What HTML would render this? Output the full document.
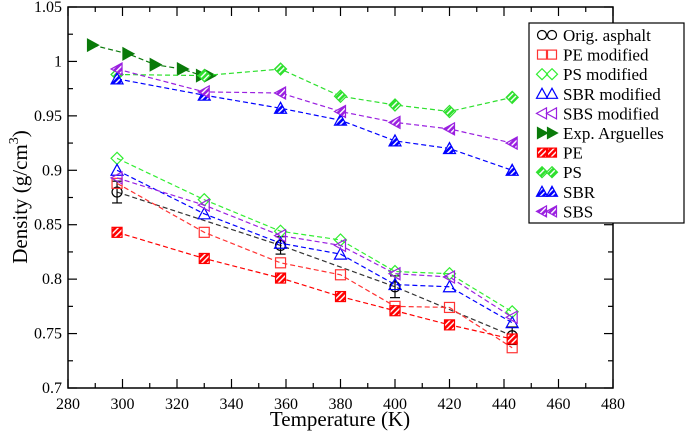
<!DOCTYPE html>
<html><head><meta charset="utf-8"><style>
html,body{margin:0;padding:0;background:#fff;}
svg{display:block;font-family:"Liberation Serif",serif;}
svg text{font-family:"Liberation Serif","DejaVu Serif",serif;}
</style></head><body>
<svg id="chart" width="685" height="433" viewBox="0 0 685 433">
<defs>
<pattern id="hR" width="4" height="4" patternUnits="userSpaceOnUse" patternTransform="rotate(45)"><rect width="4" height="4" fill="#f00"/><rect width="1.4" height="4" fill="#fff"/></pattern>
<pattern id="hG" width="4" height="4" patternUnits="userSpaceOnUse" patternTransform="rotate(45)"><rect width="4" height="4" fill="#2ee02e"/><rect width="1.4" height="4" fill="#fff"/></pattern>
<pattern id="hB" width="4" height="4" patternUnits="userSpaceOnUse" patternTransform="rotate(45)"><rect width="4" height="4" fill="#00f"/><rect width="1.4" height="4" fill="#fff"/></pattern>
<pattern id="hP" width="4" height="4" patternUnits="userSpaceOnUse" patternTransform="rotate(45)"><rect width="4" height="4" fill="#9a20e0"/><rect width="1.4" height="4" fill="#fff"/></pattern>
</defs>
<g id="axes"></g>
<g id="series"></g>
<g id="legend"></g>
</svg>
<script>
const temps = [298, 330, 358, 380, 400, 420, 443];
const origTemps = [298, 358, 400, 443];
const origVals = [0.880, 0.831, 0.793, 0.748];
const origErr = [0.010, 0.008, 0.010, 0.008];
const peModVals = [0.888, 0.843, 0.815, 0.804, 0.775, 0.774, 0.737];
const psModVals = [0.911, 0.873, 0.844, 0.836, 0.807, 0.805, 0.770];
const sbrModVals = [0.900, 0.860, 0.833, 0.823, 0.795, 0.793, 0.760];
const sbsModVals = [0.893, 0.868, 0.840, 0.831, 0.805, 0.802, 0.765];
const argTemps = [289, 302, 312, 322, 329, 332];
const argVals = [1.015, 1.007, 0.997, 0.993, 0.987, 0.987];
const peVals = [0.843, 0.819, 0.801, 0.784, 0.771, 0.758, 0.745];
const psVals = [0.988, 0.987, 0.993, 0.968, 0.960, 0.954, 0.967];
const sbrVals = [0.984, 0.969, 0.957, 0.946, 0.927, 0.920, 0.900];
const sbsVals = [0.993, 0.972, 0.971, 0.954, 0.944, 0.938, 0.925];
const xTicks = [280, 300, 320, 340, 360, 380, 400, 420, 440, 460, 480];
const yTicks = [0.7, 0.75, 0.8, 0.85, 0.9, 0.95, 1, 1.05];
const yTickLabels = ["0.7", "0.75", "0.8", "0.85", "0.9", "0.95", "1", "1.05"];

const L = 68, R = 613, T = 7, B = 388;
const X = t => L + (t - 280) / 200 * (R - L);
const Y = v => B - (v - 0.7) / 0.35 * (B - T);
const NS = "http://www.w3.org/2000/svg";
const FF = '"Liberation Serif", serif';
function mk(tag, attrs, parent) {
  const e = document.createElementNS(NS, tag);
  for (const k in attrs) e.setAttribute(k, attrs[k]);
  parent.appendChild(e);
  return e;
}
const axes = document.getElementById('axes');
const frame = mk('rect', {x: L, y: T, width: R - L, height: B - T, fill: 'none', stroke: '#000', 'stroke-width': 1.5}, axes);


for (let t = 280; t <= 480; t += 10) {
  const x = X(t), len = (t % 20 === 0) ? 9 : 5;
  mk('line', {x1: x, y1: B, x2: x, y2: B - len, stroke: '#000', 'stroke-width': 1.2}, axes);
  mk('line', {x1: x, y1: T, x2: x, y2: T + len, stroke: '#000', 'stroke-width': 1.2}, axes);
}
for (let i = 0; i <= 14; i++) {
  const v = 0.7 + i * 0.025, y = Y(v), len = (i % 2 === 0) ? 9 : 5;
  mk('line', {x1: L, y1: y, x2: L + len, y2: y, stroke: '#000', 'stroke-width': 1.2}, axes);
  mk('line', {x1: R, y1: y, x2: R - len, y2: y, stroke: '#000', 'stroke-width': 1.2}, axes);
}
xTicks.forEach(t => {
  const tx = mk('text', {x: X(t), y: B + 21, 'text-anchor': 'middle', 'font-size': 16, 'font-family': FF}, axes);
  tx.textContent = t;
  
  
});
yTicks.forEach((v, i) => {
  const tx = mk('text', {x: L - 6, y: Y(v) + 5, 'text-anchor': 'end', 'font-size': 16, 'font-family': FF}, axes);
  tx.textContent = yTickLabels[i];
  
  
});
const xt = mk('text', {x: 340, y: 426, 'text-anchor': 'middle', 'font-size': 21, 'font-family': FF}, axes);
xt.textContent = 'Temperature (K)';


const yt = mk('text', {x: 0, y: 0, 'text-anchor': 'middle', 'font-size': 21, 'font-family': FF, transform: 'translate(27,197) rotate(-90)'}, axes);
yt.innerHTML = 'Density (g/cm<tspan dy="-9" font-size="14">3</tspan><tspan dy="9">)</tspan>';



function marker(g, kind, x, y, stroke, fill, s) {
  const base = {stroke: stroke, 'stroke-width': 1.2, fill: fill};
  if (kind === 'circle') mk('circle', Object.assign({cx: x, cy: y, r: s}, base), g);
  else if (kind === 'square') mk('rect', Object.assign({x: x - s, y: y - s, width: 2 * s, height: 2 * s}, base), g);
  else if (kind === 'diamond') mk('polygon', Object.assign({points: `${x},${y - s - 1} ${x + s + 1},${y} ${x},${y + s + 1} ${x - s - 1},${y}`}, base), g);
  else if (kind === 'up') mk('polygon', Object.assign({points: `${x},${y - s - 1} ${x + s + 1},${y + s} ${x - s - 1},${y + s}`}, base), g);
  else if (kind === 'left') mk('polygon', Object.assign({points: `${x - s - 1},${y} ${x + s},${y - s - 1} ${x + s},${y + s + 1}`}, base), g);
  else if (kind === 'right') mk('polygon', Object.assign({points: `${x + s + 1},${y} ${x - s},${y - s - 1} ${x - s},${y + s + 1}`}, base), g);
}
const seriesDefs = [
  {name: 'orig-asphalt', ts: origTemps, vs: origVals, color: '#000', line: '#333', kind: 'circle', fill: 'none', err: origErr},
  {name: 'pe-modified', ts: temps, vs: peModVals, color: '#f33', line: '#f33', kind: 'square', fill: 'none'},
  {name: 'ps-modified', ts: temps, vs: psModVals, color: '#3e3', line: '#3e3', kind: 'diamond', fill: 'none'},
  {name: 'sbr-modified', ts: temps, vs: sbrModVals, color: '#00f', line: '#00f', kind: 'up', fill: 'none'},
  {name: 'sbs-modified', ts: temps, vs: sbsModVals, color: '#9a20e0', line: '#9a20e0', kind: 'left', fill: 'none'},
  {name: 'exp-arguelles', ts: argTemps, vs: argVals, color: '#0a7a0a', line: '#0a7a0a', kind: 'right', fill: '#0a7a0a'},
  {name: 'pe', ts: temps, vs: peVals, color: '#f00', line: '#f00', kind: 'square', fill: 'url(#hR)'},
  {name: 'ps', ts: temps, vs: psVals, color: '#2ee02e', line: '#2ee02e', kind: 'diamond', fill: 'url(#hG)'},
  {name: 'sbr', ts: temps, vs: sbrVals, color: '#00f', line: '#00f', kind: 'up', fill: 'url(#hB)'},
  {name: 'sbs', ts: temps, vs: sbsVals, color: '#9a20e0', line: '#9a20e0', kind: 'left', fill: 'url(#hP)'}
];
const sg = document.getElementById('series');
seriesDefs.forEach(sd => {
  const g = mk('g', {}, sg);
  
  
  const pts = sd.ts.map((t, i) => X(t) + ',' + Y(sd.vs[i])).join(' ');
  mk('polyline', {points: pts, fill: 'none', stroke: sd.line, 'stroke-width': 1.2, 'stroke-dasharray': '5,3'}, g);
  sd.ts.forEach((t, i) => {
    const x = X(t), y = Y(sd.vs[i]);
    if (sd.err) {
      const y1 = Y(sd.vs[i] + sd.err[i]), y2 = Y(sd.vs[i] - sd.err[i]);
      mk('line', {x1: x, y1: y1, x2: x, y2: y2, stroke: '#000', 'stroke-width': 1.2}, g);
      mk('line', {x1: x - 5, y1: y1, x2: x + 5, y2: y1, stroke: '#000', 'stroke-width': 1.2}, g);
      mk('line', {x1: x - 5, y1: y2, x2: x + 5, y2: y2, stroke: '#000', 'stroke-width': 1.2}, g);
    }
    marker(g, sd.kind, x, y, sd.color, sd.fill, 5);
  });
});
const labels = ['Orig. asphalt', 'PE modified', 'PS modified', 'SBR modified', 'SBS modified', 'Exp. Arguelles', 'PE', 'PS', 'SBR', 'SBS'];
const lg = document.getElementById('legend');


mk('rect', {x: 529, y: 23, width: 155, height: 200, fill: '#fff', stroke: '#000', 'stroke-width': 1.2}, lg);
seriesDefs.forEach((sd, i) => {
  const y = 35 + i * 19.6;
  const e = mk('g', {}, lg);
  
  
  marker(e, sd.kind, 542, y, sd.color, sd.fill, 4.5);
  marker(e, sd.kind, 552, y, sd.color, sd.fill, 4.5);
  const tx = mk('text', {x: 563, y: y + 6, 'font-size': 17, 'font-family': FF}, e);
  tx.textContent = labels[i];
});
</script>
</body></html>
